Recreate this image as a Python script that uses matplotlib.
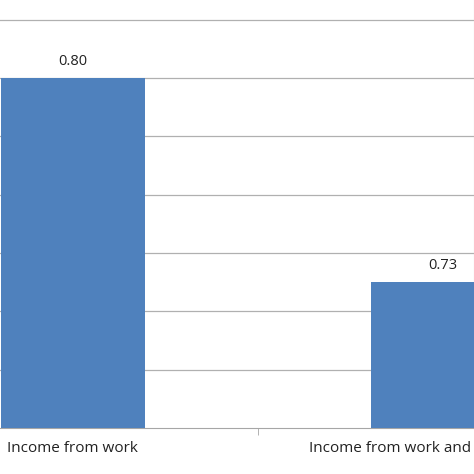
import matplotlib.pyplot as plt

categories = ["Income from work", "Income from work and social benefits"]
values = [0.80, 0.73]
labels = ["0.80", "0.73"]

plt.rcParams['font.family'] = ['Open Sans', 'DejaVu Sans']

fig = plt.figure(figsize=(4.74, 4.74), dpi=100)
ax = fig.add_axes([0, 46 / 474, 1, 428 / 474])

x = [0, 1]
ax.bar(x, values, width=0.39, color='#4f81bd', zorder=3)
for xi, v, t in zip(x, values, labels):
    ax.text(xi, v + 0.003, t, ha='center', va='bottom', fontsize=10.5, color='#222222')

ax.set_xlim(-0.197, 1.084)
ax.set_ylim(0.68, 0.8268)
ax.set_yticks([0.70, 0.72, 0.74, 0.76, 0.78, 0.80, 0.82])
ax.yaxis.grid(True, color='#b0b0b0', linewidth=0.9, zorder=0)
ax.tick_params(axis='y', left=False, labelleft=False)
ax.set_xticks(x)
ax.set_xticklabels(categories, fontsize=11, color='#222222')
ax.tick_params(axis='x', length=0, pad=9)
ax.set_xticks([0.5], minor=True)
ax.tick_params(axis='x', which='minor', length=5, color='#a6a6a6')
for s in ['top', 'left']:
    ax.spines[s].set_visible(False)
ax.spines['right'].set_color('#d9d9d9')
ax.spines['bottom'].set_color('#a6a6a6')

fig.savefig('out.png', dpi=100)
